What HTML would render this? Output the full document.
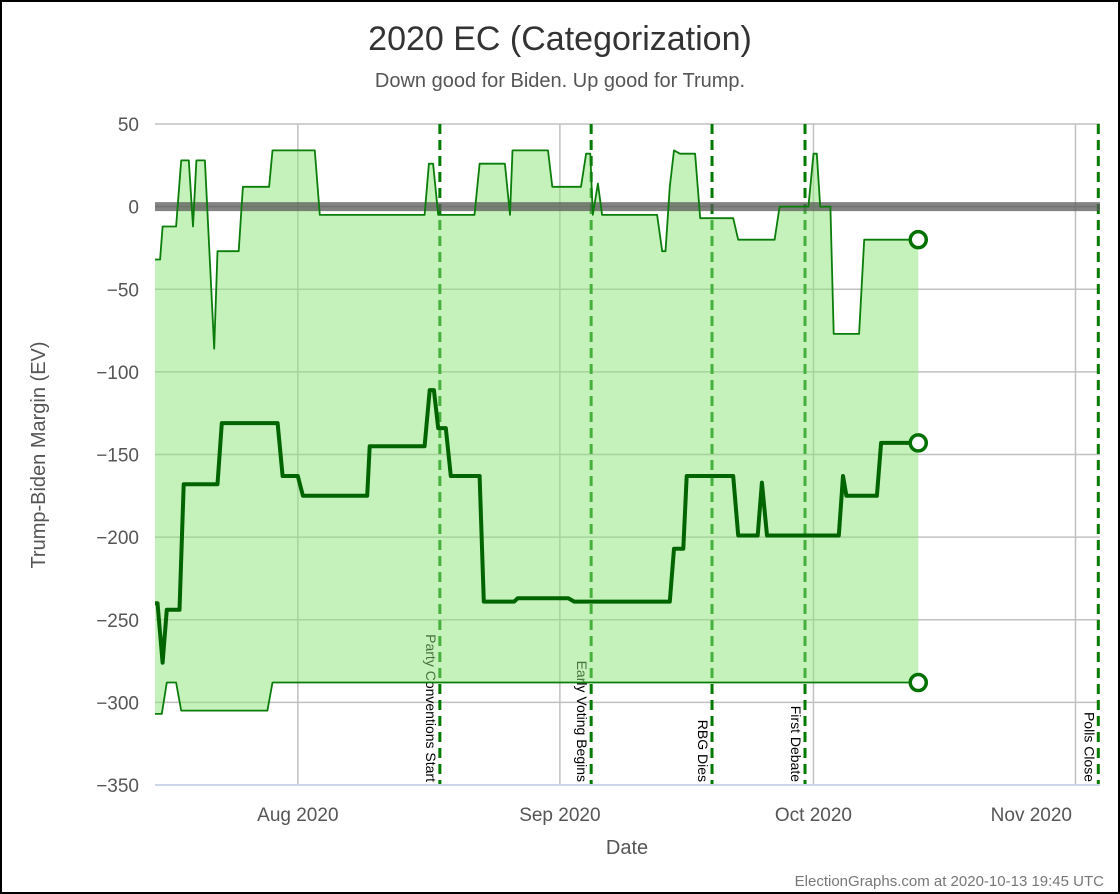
<!DOCTYPE html>
<html><head><meta charset="utf-8"><style>
html,body{margin:0;padding:0;background:#fff;}
svg{display:block;font-family:"Liberation Sans","DejaVu Sans",sans-serif;}
</style></head><body>
<svg id="chart" width="1120" height="894" viewBox="0 0 1120 894" xmlns="http://www.w3.org/2000/svg">
<rect x="0" y="0" width="1120" height="894" fill="#fff"/>
<text x="560" y="50" text-anchor="middle" font-size="34" fill="#333">2020 EC (Categorization)</text>
<text x="560" y="87" text-anchor="middle" font-size="20" fill="#555">Down good for Biden. Up good for Trump.</text>
<text transform="translate(45,455) rotate(-90)" text-anchor="middle" font-size="20" fill="#555">Trump-Biden Margin (EV)</text>
<text x="627" y="854" text-anchor="middle" font-size="20" fill="#555">Date</text>
<text x="1104" y="886" text-anchor="end" font-size="15" fill="#777">ElectionGraphs.com at 2020-10-13 19:45 UTC</text>
<g id="grid"></g><g id="events"></g><g id="area"></g><g id="zero"></g><g id="lines"></g><g id="axes"></g>
<rect x="1" y="1" width="1118" height="892" fill="none" stroke="#000" stroke-width="2"/>
</svg>
<script>
// days relative to Aug 1 2020
const upperDays=[-16.9,-16.3,-16.0,-14.4,-13.8,-12.9,-12.4,-12.0,-11.0,-9.9,-9.5,-7.0,-6.5,-3.4,-3.0,2.0,2.6,15.0,15.5,16.0,16.6,20.9,21.5,24.5,25.1,25.4,29.6,30.1,33.5,34.1,34.6,34.9,35.5,36.0,42.5,43.1,43.5,44.0,44.5,45.2,47.0,47.6,51.5,52.1,56.4,57.0,60.4,61.0,61.4,61.8,63.0,63.4,66.4,67.0,73.4];
const upperVals=[-32,-32,-12,-12,28,28,-12,28,28,-86,-27,-27,12,12,34,34,-5,-5,26,26,-5,-5,26,26,-5,34,34,12,12,32,32,-5,14,-5,-5,-27,-27,12,34,32,32,-7,-7,-20,-20,0,0,32,32,0,0,-77,-77,-20,-20];
const mainDays=[-16.9,-16.6,-16.0,-15.5,-14.0,-13.5,-9.5,-9.0,-2.4,-1.8,0,0.6,8.2,8.5,15.0,15.6,16.1,16.6,17.5,18.1,21.5,22.0,25.6,26.0,32.0,32.7,44.0,44.5,45.6,46.0,51.5,52.1,54.4,54.9,55.5,64.0,64.5,64.9,68.5,69.0,73.4];
const mainVals=[-240,-240,-276,-244,-244,-168,-168,-131,-131,-163,-163,-175,-175,-145,-145,-111,-111,-134,-134,-163,-163,-239,-239,-237,-237,-239,-239,-207,-207,-163,-163,-199,-199,-167,-199,-199,-163,-175,-175,-143,-143];
const lowerDays=[-16.9,-16.1,-15.5,-14.4,-13.8,-3.6,-3.0,73.4];
const lowerVals=[-307,-307,-288,-288,-305,-305,-288,-288];
const yTicks=[50,0,-50,-100,-150,-200,-250,-300,-350];
const xTickDays=[0,31,61,92];
const xTickLabels=["Aug 2020","Sep 2020","Oct 2020","Nov 2020"];
const eventDays=[16.8,34.7,49.0,60.0,94.7];
const eventLabels=["Party Conventions Start","Early Voting Begins","RBG Dies","First Debate","Polls Close"];

const NS="http://www.w3.org/2000/svg";
const X0=155,X1=1100,Y0=124,Y1=785,D0=-16.9,D1=94.9,V0=50,V1=-350;
function xs(d){return X0+(d-D0)/(D1-D0)*(X1-X0);}
function ys(v){return Y0+(v-V0)/(V1-V0)*(Y1-Y0);}
function mk(tag,attrs,parent){const e=document.createElementNS(NS,tag);for(const k in attrs)e.setAttribute(k,attrs[k]);document.getElementById(parent).appendChild(e);return e;}
function pts(ds,vs){return ds.map((d,i)=>xs(d).toFixed(1)+","+ys(vs[i]).toFixed(1));}

yTicks.forEach(v=>{
  const l=mk('line',{x1:X0,x2:X1,y1:ys(v),y2:ys(v),stroke:'#c0c0c0','stroke-width':1.5},'grid');
  
  
  const t=mk('text',{x:139,y:ys(v)+7,'text-anchor':'end','font-size':19,fill:'#555'},'axes');
  t.textContent=String(v).replace('-','\u2212');
  
  
});
xTickDays.forEach((d,i)=>{
  const l=mk('line',{x1:xs(d),x2:xs(d),y1:Y0,y2:Y1,stroke:'#c0c0c0','stroke-width':1.5},'grid');
  
  
  const last=i===xTickDays.length-1;
  const t=mk('text',{x:last?1072:xs(d),y:821,'text-anchor':last?'end':'middle','font-size':19,fill:'#555'},'axes');
  t.textContent=xTickLabels[i];
  
  
});
const ax=mk('line',{x1:X0,x2:X1,y1:Y1,y2:Y1,stroke:'#ccd6eb','stroke-width':2},'axes');



eventDays.forEach((d,i)=>{
  const l=mk('line',{x1:xs(d),x2:xs(d),y1:Y0,y2:Y1,stroke:'#007a00','stroke-width':3,'stroke-dasharray':'10,6'},'events');
  
  
  const t=mk('text',{transform:'translate('+(xs(d)-14)+','+(Y1-3)+') rotate(90)','text-anchor':'end','font-size':14,fill:'#000'},'events');
  t.textContent=eventLabels[i];
  
  
});

const band=pts(upperDays,upperVals).concat(pts(lowerDays,lowerVals).reverse());
const a=mk('polygon',{points:band.join(' '),fill:'rgba(140,230,120,0.5)'},'area');



const z=mk('line',{x1:X0,x2:X1,y1:ys(0),y2:ys(0),stroke:'rgba(90,90,90,0.75)','stroke-width':9},'zero');



[[upperDays,upperVals,1.8,'upper-bound-line'],[lowerDays,lowerVals,1.8,'lower-bound-line'],[mainDays,mainVals,4,'expected-line']].forEach(s=>{
  const p=mk('polyline',{points:pts(s[0],s[1]).join(' '),fill:'none',stroke:s[2]>2?'#006400':'#0a7d0a','stroke-width':s[2],'stroke-linejoin':'round'},'lines');
  
  
  const n=s[0].length-1;
  const c=mk('circle',{cx:xs(s[0][n]),cy:ys(s[1][n]),r:8,fill:'#fff',stroke:'#007000','stroke-width':3.5},'lines');
  
  
});
</script>
</body></html>
